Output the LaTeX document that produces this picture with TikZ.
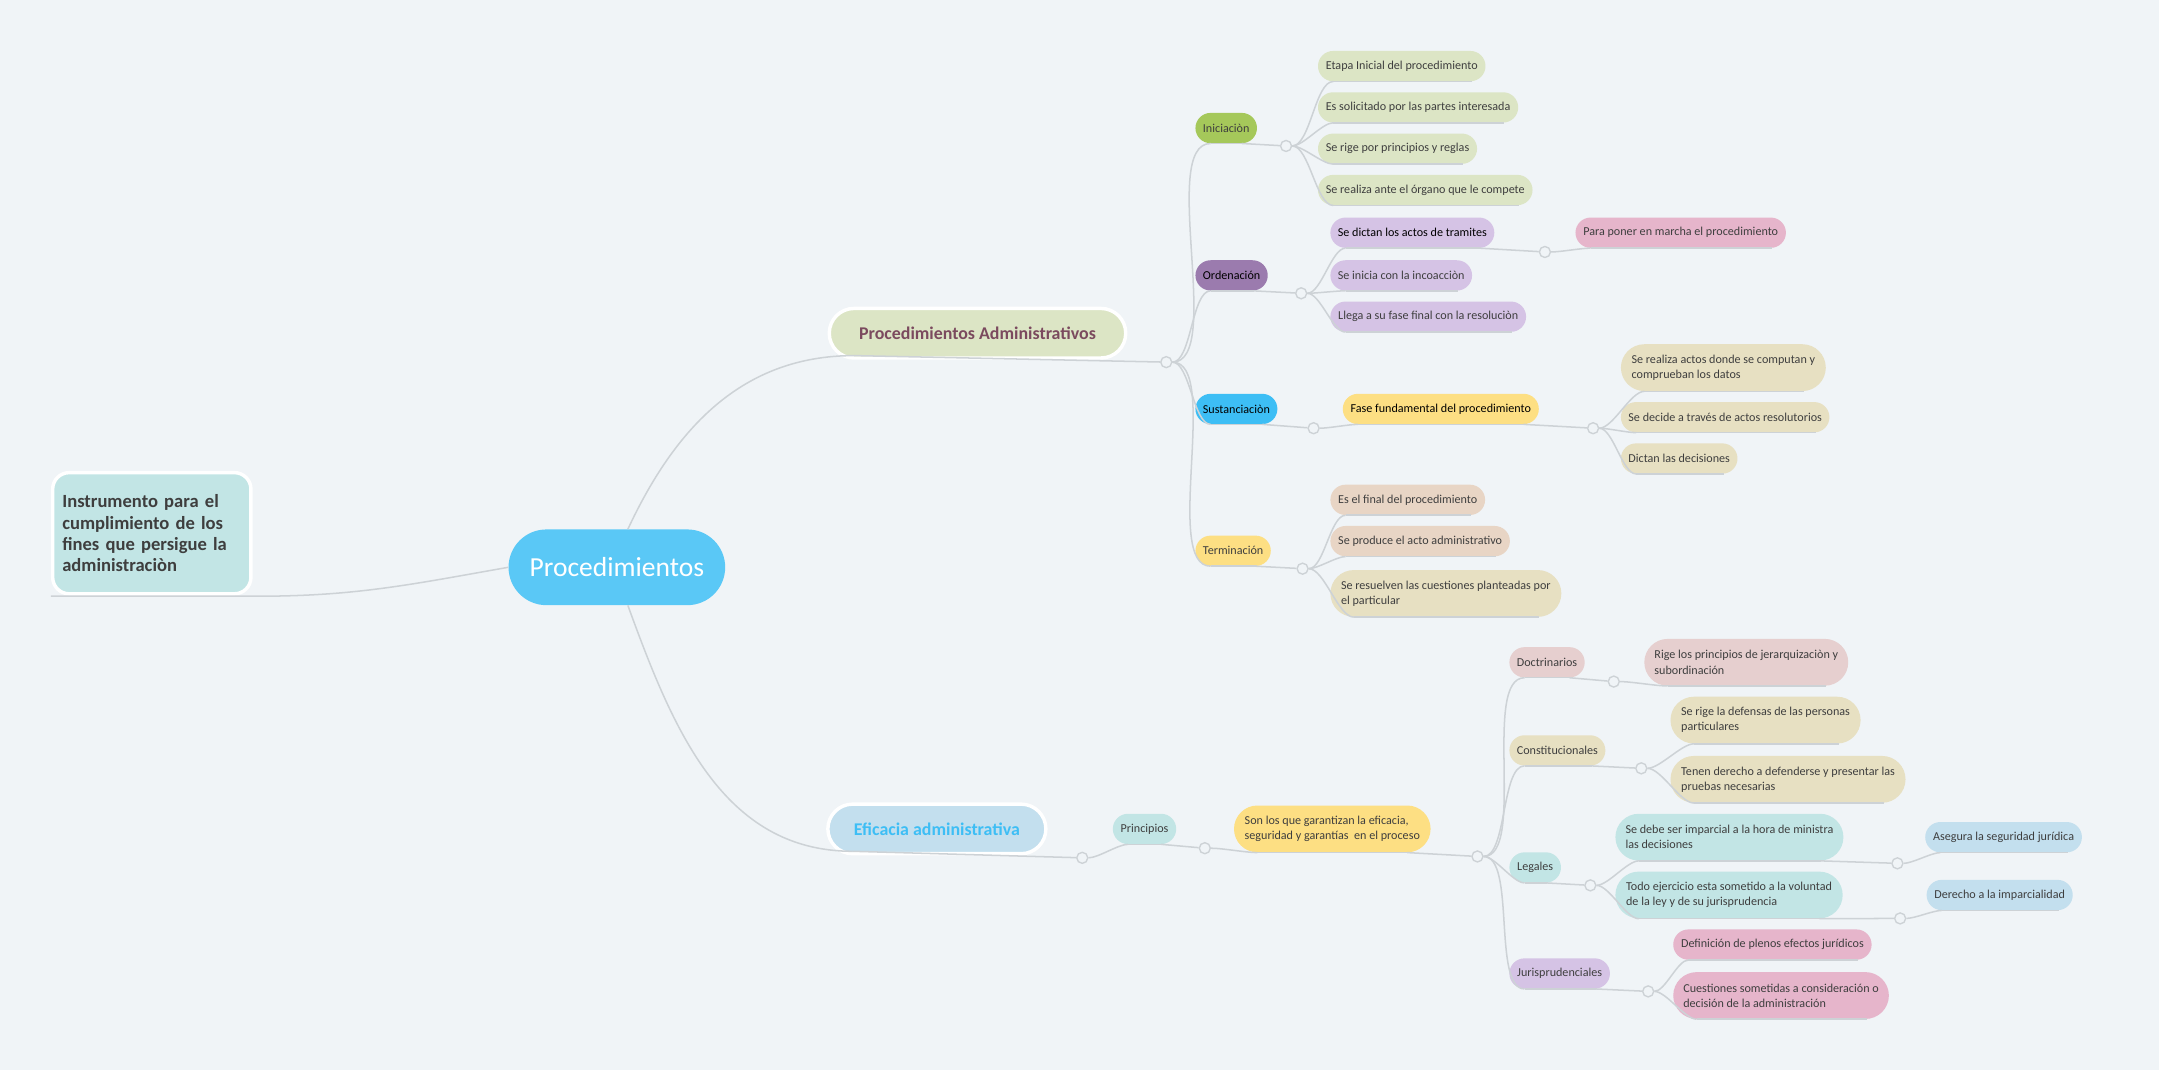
\documentclass[tikz,border=0pt]{standalone}
\usepackage{fontspec}
\setmainfont{Carlito}
\usetikzlibrary{shapes.misc}
\definecolor{bg}{HTML}{F0F4F7}
\definecolor{lc}{HTML}{CDD2D6}
\definecolor{txt}{HTML}{3E3E3E}
\definecolor{cgreen}{HTML}{DCE5C5}
\definecolor{cgreenD}{HTML}{A5C85A}
\definecolor{cpurp}{HTML}{D5C3E5}
\definecolor{cpurpD}{HTML}{9B7BAE}
\definecolor{cpink}{HTML}{E6B5CB}
\definecolor{cblue}{HTML}{3DBEF5}
\definecolor{cyel}{HTML}{FDDF83}
\definecolor{csand}{HTML}{E7E0C2}
\definecolor{ctan}{HTML}{E8D5C5}
\definecolor{crose}{HTML}{E6CFCF}
\definecolor{cteal}{HTML}{C2E5E5}
\definecolor{clblue}{HTML}{C3DFEE}
\definecolor{maroon}{HTML}{7B4A5E}
\tikzset{
 leaf/.style={rounded rectangle, fill=#1, anchor=west, inner xsep=5pt, inner ysep=2pt, minimum height=22pt, font=\fontsize{8.8}{11}\selectfont, text=txt, align=left},
 conn/.style={draw=lc, line width=1.1pt},
 dot/.style={circle, minimum size=8pt, inner sep=0pt, draw=lc, line width=1pt, fill=bg},
}
\newcommand\ul[1]{\draw[conn] (#1.south west) -- ([xshift=1pt]#1.south east);}
\newcommand\br[2]{\draw[conn] (#1) to[out=0,in=180,looseness=0.6] (#2.south west);}
\begin{document}
\begin{tikzpicture}[x=1pt,y=-1pt]
\fill[bg] (0,0) rectangle (1568,777);
\useasboundingbox (0,0) rectangle (1568,777);
% root
\node[rounded rectangle, fill=cblue!85!white, text=white, minimum width=164pt, minimum height=55pt, font=\fontsize{20}{24}\selectfont] (root) at (448,412) {Procedimientos};
\node[rounded corners=12pt, fill=cteal, draw=white, line width=2.5pt, text=txt, font=\bfseries\fontsize{13.5}{15.5}\selectfont, align=left, text width=130pt, minimum height=88pt, anchor=north west, inner xsep=7pt] (inst) at (37,342) {Instrumento para el\\cumplimiento de los\\fines que persigue la\\administraciòn};
\coordinate (instu) at (37,433);
\draw[conn] (instu) -- (187,433) to[out=0,in=190] (root.west);
% main branches
\node[rounded rectangle, fill=cgreen, draw=white, line width=2.5pt, text=maroon, font=\bfseries\fontsize{13}{15}\selectfont, minimum height=36pt, minimum width=222pt, anchor=west] (pa) at (601,242) {Procedimientos Administrativos};
\node[rounded rectangle, fill=clblue, draw=white, line width=2.5pt, text=cblue, font=\bfseries\fontsize{13}{15}\selectfont, minimum height=36pt, minimum width=165pt, anchor=west] (ea) at (600,602) {Eficacia administrativa};
\draw[conn] (root.north) ++(8,0) to[out=65,in=180] ([yshift=3pt]pa.south west);
\draw[conn] (root.south) ++(8,0) to[out=-70,in=180] ([yshift=3pt]ea.south west);
\node[dot] (cpa) at (847,263) {};
\node[dot] (cea) at (786,623) {};
\draw[conn] ([yshift=3pt]pa.south west) -- (cpa);
\draw[conn] ([yshift=3pt]ea.south west) -- (cea);
% level 2 under PA
\node[leaf=cgreenD] (ini) at (868,93) {Iniciaciòn};
\node[leaf=cpurpD, text=black] (ord) at (868,200) {Ordenación};
\node[leaf=cblue, text=black] (sus) at (868,297) {Sustanciaciòn};
\node[leaf=cyel] (ter) at (868,400) {Terminación};
\foreach \n in {ini,ord,sus,ter}{\ul{\n}\br{cpa}{\n}}
% Iniciacion
\node[dot] (cini) at (934,106) {};
\draw[conn] (ini.south east) -- (cini);
\node[leaf=cgreen] (i1) at (957,48) {Etapa Inicial del procedimiento};
\node[leaf=cgreen] (i2) at (957,78) {Es solicitado por las partes interesada};
\node[leaf=cgreen] (i3) at (957,108) {Se rige por principios y reglas};
\node[leaf=cgreen] (i4) at (957,138) {Se realiza ante el órgano que le compete};
\foreach \n in {i1,i2,i3,i4}{\ul{\n}\br{cini}{\n}}
% Ordenacion
\node[dot] (cord) at (945,213) {};
\draw[conn] (ord.south east) -- (cord);
\node[leaf=cpurp, text=black] (o1) at (966,169) {Se dictan los actos de tramites};
\node[leaf=cpurp] (o2) at (966,200) {Se inicia con la incoacciòn};
\node[leaf=cpurp] (o3) at (966,230) {Llega a su fase final con la resoluciòn};
\foreach \n in {o1,o2,o3}{\ul{\n}\br{cord}{\n}}
\node[dot] (co1) at (1122,183) {};
\draw[conn] (o1.south east) -- (co1);
\node[leaf=cpink] (o11) at (1144,169) {Para poner en marcha el procedimiento};
\ul{o11}\br{co1}{o11}
% Sustanciacion
\node[dot] (csus) at (954,311) {};
\draw[conn] (sus.south east) -- (csus);
\node[leaf=cyel, text=black] (s1) at (975,297) {Fase fundamental del procedimiento};
\ul{s1}\br{csus}{s1}
\node[dot] (cs1) at (1157,311) {};
\draw[conn] (s1.south east) -- (cs1);
\node[leaf=csand, minimum height=34pt] (s11) at (1177,267) {Se realiza actos donde se computan y\\comprueban los datos};
\node[leaf=csand] (s12) at (1177,303) {Se decide a través de actos resolutorios};
\node[leaf=csand] (s13) at (1177,333) {Dictan las decisiones};
\foreach \n in {s11,s12,s13}{\ul{\n}\br{cs1}{\n}}
% Terminacion
\node[dot] (cter) at (946,413) {};
\draw[conn] (ter.south east) -- (cter);
\node[leaf=ctan] (t1) at (966,363) {Es el final del procedimiento};
\node[leaf=ctan] (t2) at (966,393) {Se produce el acto administrativo};
\node[leaf=csand, minimum height=34pt] (t3) at (966,431) {Se resuelven las cuestiones planteadas por\\el particular};
\foreach \n in {t1,t2,t3}{\ul{\n}\br{cter}{\n}}
% Eficacia
\node[leaf=cteal] (pr) at (808,602) {Principios};
\ul{pr}\br{cea}{pr}
\node[dot] (cpr) at (875,616) {};
\draw[conn] (pr.south east) -- (cpr);
\node[leaf=cyel, minimum height=34pt] (sl) at (896,602) {Son los que garantizan la eficacia,\\seguridad y garantías\ \ en el proceso};
\ul{sl}\br{cpr}{sl}
\node[dot] (csl) at (1073,622) {};
\draw[conn] (sl.south east) -- (csl);
\node[leaf=crose] (d) at (1096,481) {Doctrinarios};
\node[leaf=csand] (k) at (1096,545) {Constitucionales};
\node[leaf=cteal] (l) at (1096,630) {Legales};
\node[leaf=cpurp] (j) at (1096,707) {Jurisprudenciales};
\foreach \n in {d,k,l,j}{\ul{\n}\br{csl}{\n}}
\node[dot] (cd) at (1172,495) {};
\draw[conn] (d.south east) -- (cd);
\node[leaf=crose, minimum height=34pt] (d1) at (1194,481) {Rige los principios de jerarquizaciòn y\\subordinación};
\ul{d1}\br{cd}{d1}
\node[dot] (ck) at (1192,558) {};
\draw[conn] (k.south east) -- (ck);
\node[leaf=csand, minimum height=34pt] (k1) at (1213,523) {Se rige la defensas de las personas\\particulares};
\node[leaf=csand, minimum height=34pt] (k2) at (1213,566) {Tenen derecho a defenderse y presentar las\\pruebas necesarias};
\foreach \n in {k1,k2}{\ul{\n}\br{ck}{\n}}
\node[dot] (cl) at (1155,643) {};
\draw[conn] (l.south east) -- (cl);
\node[leaf=cteal, minimum height=34pt] (l1) at (1173,608) {Se debe ser imparcial a la hora de ministra\\las decisiones};
\node[leaf=cteal, minimum height=34pt] (l2) at (1173,650) {Todo ejercicio esta sometido a la voluntad\\de la ley y de su jurisprudencia};
\foreach \n in {l1,l2}{\ul{\n}\br{cl}{\n}}
\node[dot] (cl1) at (1378,627) {};
\node[dot] (cl2) at (1380,667) {};
\draw[conn] (l1.south east) -- (cl1);
\draw[conn] (l2.south east) -- (cl2);
\node[leaf=clblue] (l11) at (1398,608) {Asegura la seguridad jurídica};
\node[leaf=clblue] (l21) at (1399,650) {Derecho a la imparcialidad};
\ul{l11}\br{cl1}{l11}
\ul{l21}\br{cl2}{l21}
\node[dot] (cj) at (1197,720) {};
\draw[conn] (j.south east) -- (cj);
\node[leaf=cpink] (j1) at (1215,686) {Definición de plenos efectos jurídicos};
\node[leaf=cpink, minimum height=34pt] (j2) at (1215,723) {Cuestiones sometidas a consideración o\\decisión de la administración};
\foreach \n in {j1,j2}{\ul{\n}\br{cj}{\n}}
\end{tikzpicture}
\end{document}
